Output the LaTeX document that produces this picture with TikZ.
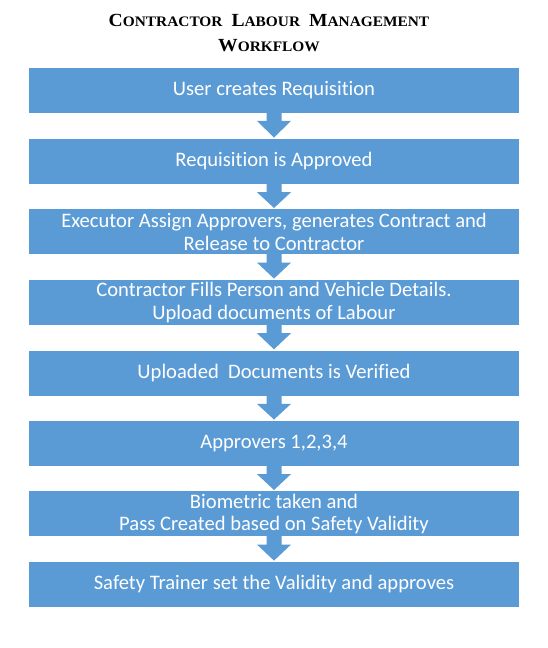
\documentclass[tikz,border=0pt]{standalone}
\usepackage{fontspec}
\setmainfont{Carlito}[Ligatures=NoCommon]
\newfontfamily\titlefont{Liberation Serif}[FakeStretch=1.06]
\usetikzlibrary{calc}
\definecolor{boxblue}{HTML}{5B9BD5}
\newcommand\bigsc[2]{{\fontsize{18.5}{24.7}\selectfont #1}{\fontsize{14.5}{24.7}\selectfont #2}}
\newcommand\flowarrow[2]{%
  \fill[boxblue] ($(#1.south)+(-7.5,-0.5)$) -- ($(#1.south)+(-7.5,8)$)
    -- ($(#1.south)+(-17,8)$) -- ($(#2.north)+(0,-1.2)$)
    -- ($(#1.south)+(17,8)$) -- ($(#1.south)+(7.5,8)$)
    -- ($(#1.south)+(7.5,-0.5)$) -- cycle;}
\tikzset{
  stepbox/.style={fill=boxblue, text=white, minimum width=490pt, minimum height=45pt,
    inner sep=0pt, align=center, font=\fontsize{20.6}{22.7}\selectfont},
  titlenode/.style={align=center, inner sep=0pt, font=\titlefont\bfseries\fontsize{18.5}{24.7}\selectfont}
}
\begin{document}
\begin{tikzpicture}[x=1pt,y=-1pt]
\useasboundingbox (0,0) rectangle (548,648);
\node[titlenode, anchor=north] (title) at (269,14) {\bigsc{C}{ONTRACTOR}\hspace{9pt}\bigsc{L}{ABOUR}\hspace{9pt}\bigsc{M}{ANAGEMENT}\\\bigsc{W}{ORKFLOW}};
\node[stepbox] (b1) at (274,90.2) {User creates Requisition};
\node[stepbox] (b2) at (274,161.5) {Requisition is Approved};
\node[stepbox] (b3) at (274,231.9) {Executor Assign Approvers, generates Contract and\\Release to Contractor};
\node[stepbox] (b4) at (274,302.5) {Contractor Fills Person and Vehicle Details.\\Upload documents of Labour};
\node[stepbox] (b5) at (274,373.2) {Uploaded\ \ Documents is Verified};
\node[stepbox] (b6) at (274,443.4) {Approvers 1,2,3,4};
\node[stepbox] (b7) at (274,513.9) {Biometric taken and\\Pass Created based on Safety Validity};
\node[stepbox] (b8) at (274,584.5) {Safety Trainer set the Validity and approves};
\flowarrow{b1}{b2}
\flowarrow{b2}{b3}
\flowarrow{b3}{b4}
\flowarrow{b4}{b5}
\flowarrow{b5}{b6}
\flowarrow{b6}{b7}
\flowarrow{b7}{b8}
\end{tikzpicture}
\end{document}
